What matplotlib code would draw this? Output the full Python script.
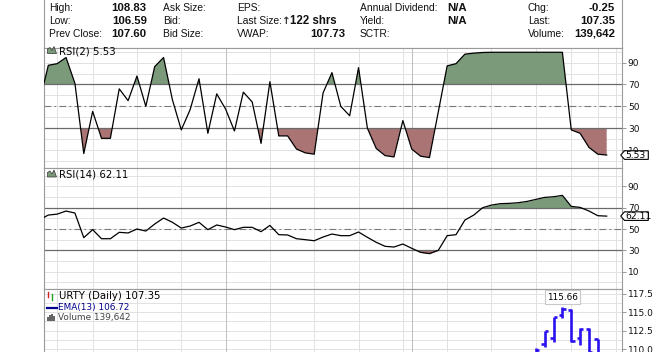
import matplotlib
matplotlib.use('Agg')
import matplotlib.pyplot as plt
from matplotlib.patches import Polygon
from matplotlib.lines import Line2D
import numpy as np

# ---------------- data ----------------
rsi2 = [54, 87.5, 89, 94.6, 71, 6.9, 45.4, 20.8, 20.8, 66, 55.2, 77.7, 50, 86.3, 94.6, 56,
        28.5, 47, 75.2, 25.4, 61.4, 47.5, 27.5, 63, 54, 16.2, 72.5, 23, 23, 11, 7.5, 6.3,
        62.3, 80.8, 50, 41.4, 85.4, 30, 11.5, 5, 3.8, 37, 11, 4.5, 3.2, 45, 87, 89, 97.7,
        98.6, 99.2, 99.4, 99.4, 99.4, 99.4, 99.4, 99.4, 99.4, 99.4, 99.4, 28.5, 25.4, 12.5,
        6.3, 5.53]
rsi14 = [58.8, 63.1, 64, 66.9, 65, 41.9, 49.4, 40.9, 40.9, 46.9, 46.3, 50, 48.1, 54.7, 60.3,
         56.3, 50.9, 52.8, 56.3, 49.4, 53.8, 51.9, 49.4, 51.6, 51.6, 47.5, 53.4, 44.7, 44.4,
         40.9, 40, 39, 42.5, 45.3, 43.75, 43.75, 47.2, 42.2, 37.5, 33.75, 33.1, 35.9, 31.9,
         28.1, 26.9, 30, 43.75, 44.7, 58.4, 63.1, 70, 72.5, 73.8, 74.1, 74.7, 75.9, 77.8,
         79.7, 80.3, 81.6, 71.25, 70.3, 66.9, 62.5, 62.11]
bar_idx = [56, 57, 58, 59, 60, 61, 62, 63, 64]
bar_open = [109.3, 110.7, 111.5, 114.7, 115.3, 111.5, 112.7, 111.3, 107.60]
bar_high = [110.2, 112.4, 114.4, 115.66, 115.4, 112.9, 112.9, 111.4, 108.83]
bar_low = [108.6, 110.3, 110.9, 114.2, 110.9, 110.5, 109.3, 108.8, 106.59]
bar_close = [109.9, 112.4, 114.3, 115.5, 111.1, 112.7, 109.6, 109.2, 107.35]
rsi_ticks = [10, 30, 50, 70, 90]
price_ticks = [110.0, 112.5, 115.0, 117.5]
grid_light = [2, 6, 11, 16, 26, 31, 36, 41, 46, 51, 56, 60, 63, 65]
grid_dark = [21, 42]

header_rows = [
    [("High:", "108.83"), ("Ask Size:", ""), ("EPS:", ""), ("Annual Dividend:", "N/A"), ("Chg:", "-0.25")],
    [("Low:", "106.59"), ("Bid:", ""), ("Last Size:", "122 shrs"), ("Yield:", "N/A"), ("Last:", "107.35")],
    [("Prev Close:", "107.60"), ("Bid Size:", ""), ("VWAP:", "107.73"), ("SCTR:", ""), ("Volume:", "139,642")],
]

# ---------------- layout ----------------
W, H = 670, 352
fig = plt.figure(figsize=(6.7, 3.52), dpi=100)
fig.patch.set_facecolor('white')

def fx(px):
    return px / W

def fy(py):
    return 1 - py / H

X_LEFT, X_RIGHT = 44.3, 622.3
X0, STEP = 39.47, 8.863
XLIM = ((X_LEFT - X0) / STEP, (X_RIGHT - X0) / STEP)
axl = fx(X_LEFT)
axw = fx(X_RIGHT) - fx(X_LEFT)

GREEN = '#7a9a79'
RED = '#aa7474'
SPINE = '#9a9a9a'
GL = '#e2e2e2'
GD = '#bdbdbd'

def style_axes(ax, ylim, yticks, hgrid, fmt=None):
    ax.set_xlim(*XLIM)
    ax.set_ylim(*ylim)
    ax.set_xticks([])
    ax.set_yticks(yticks)
    if fmt:
        ax.set_yticklabels([fmt.format(t) for t in yticks])
    ax.yaxis.tick_right()
    ax.tick_params(axis='y', direction='out', length=3, width=0.6, color='#888888',
                   pad=1, labelsize=6.5, labelcolor='#111111')
    for s in ax.spines.values():
        s.set_color(SPINE)
        s.set_linewidth(0.8)
    for g in hgrid:
        ax.axhline(g, color=GL, lw=0.7, zorder=0)
    for g in grid_light:
        ax.axvline(g, color=GL, lw=0.7, zorder=0)
    for g in grid_dark:
        ax.axvline(g, color=GD, lw=0.7, zorder=0)

# header axes (border only)
axh = fig.add_axes([axl, fy(48), axw, fy(0) - fy(48)])
axh.set_xticks([]); axh.set_yticks([])
axh.spines['top'].set_visible(False)
for s in ['left', 'right', 'bottom']:
    axh.spines[s].set_color(SPINE)
    axh.spines[s].set_linewidth(0.8)

ax1 = fig.add_axes([axl, fy(168), axw, fy(48) - fy(168)])
ax2 = fig.add_axes([axl, fy(289.3), axw, fy(168) - fy(289.3)])
ax3 = fig.add_axes([axl, fy(420), axw, fy(289.3) - fy(420)])

x = np.arange(len(rsi2))
for ax, data, ylim in [(ax1, np.array(rsi2), (-6.3, 103.3)), (ax2, np.array(rsi14), (-6.6, 107.3))]:
    style_axes(ax, ylim, rsi_ticks, list(range(0, 101, 10)))
    ax.fill_between(x, data, 70, where=data >= 70, interpolate=True, color=GREEN, lw=0, zorder=1)
    ax.fill_between(x, data, 30, where=data <= 30, interpolate=True, color=RED, lw=0, zorder=1)
    ax.axhline(70, color='#6a6a6a', lw=0.9, zorder=2)
    ax.axhline(30, color='#6a6a6a', lw=0.9, zorder=2)
    ax.axhline(50, color='#7a7a7a', lw=0.8, zorder=2, linestyle=(0, (6, 3, 1.5, 3)))
    ax.plot(x, data, color='black', lw=0.9, zorder=3)

style_axes(ax3, (100.32, 118.14), price_ticks, list(np.arange(101.25, 118.2, 1.25)), fmt='{:.1f}')
BLUE = '#2a12f0'
for i, o, h, l, c in zip(bar_idx, bar_open, bar_high, bar_low, bar_close):
    ax3.plot([i, i], [l, h], color=BLUE, lw=1.9, solid_capstyle='butt', zorder=3)
    ax3.plot([i - 0.38, i], [o, o], color=BLUE, lw=1.9, solid_capstyle='butt', zorder=3)
    ax3.plot([i, i + 0.38], [c, c], color=BLUE, lw=1.9, solid_capstyle='butt', zorder=3)

# max label
imax = int(np.argmax(bar_high))
ax3.annotate(f"{bar_high[imax]:.2f}", xy=(bar_idx[imax], bar_high[imax]),
             xytext=(0, 7.5), textcoords='offset points', ha='center', va='center',
             fontsize=6.4, zorder=6,
             bbox=dict(boxstyle='square,pad=0.25', fc='white', ec='#c8c8c8', lw=0.8))

# ---------------- value boxes ----------------
def value_box(ax, val, text):
    yc = ax.transData.transform((XLIM[1], val))[1]
    pts = [(620.7, yc), (624.5, yc + 4.3), (648.3, yc + 4.3), (648.3, yc - 4.3), (624.5, yc - 4.3)]
    poly = Polygon([(px / W, py / H) for px, py in pts], closed=True, transform=fig.transFigure,
                   fc='white', ec='black', lw=0.8, zorder=5)
    fig.add_artist(poly)
    fig.text(625.3 / W, yc / H, text, fontsize=6.7, va='center', ha='left', zorder=6)

value_box(ax1, rsi2[-1], f"{rsi2[-1]:.2f}")
value_box(ax2, rsi14[-1], f"{rsi14[-1]:.2f}")

# ---------------- panel labels ----------------
def mountain(x0, ytop):
    pts = [(x0, ytop + 7), (x0, ytop + 2.5), (x0 + 2.5, ytop + 1), (x0 + 4.5, ytop + 4),
           (x0 + 6.5, ytop), (x0 + 9, ytop + 7)]
    fig.add_artist(Polygon([(fx(px), fy(py)) for px, py in pts], closed=True,
                           transform=fig.transFigure, fc=GREEN, ec='#333333', lw=0.5, zorder=6))

mountain(47.5, 46.5)
fig.text(fx(59.3), fy(51.5), f"RSI(2) {rsi2[-1]:.2f}", fontsize=7.3, va='center', ha='left', zorder=6)
mountain(47.5, 170)
fig.text(fx(59.3), fy(174.5), f"RSI(14) {rsi14[-1]:.2f}", fontsize=7.3, va='center', ha='left', zorder=6)

# price legend
fig.add_artist(Line2D([fx(47.5), fx(47.5)], [fy(292), fy(297)], color='#d02020', lw=1.0, transform=fig.transFigure))
fig.add_artist(Line2D([fx(51.5), fx(51.5)], [fy(294), fy(300)], color='#20a020', lw=1.0, transform=fig.transFigure))
fig.text(fx(59.3), fy(296.3), f"URTY (Daily) {bar_close[-1]:.2f}", fontsize=7.3, va='center', ha='left')
fig.add_artist(Line2D([fx(46.5), fx(57)], [fy(307.8), fy(307.8)], color='#00008b', lw=1.6, transform=fig.transFigure))
fig.text(fx(57.5), fy(307.8), "EMA(13) 106.72", fontsize=6.4, va='center', ha='left', color='#00008b')
for bx, bh in [(47.5, 4), (49.5, 6), (51.5, 7), (53.5, 5)]:
    fig.add_artist(Line2D([fx(bx), fx(bx)], [fy(321), fy(321 - bh)], color='#555555', lw=1.3,
                          solid_capstyle='butt', transform=fig.transFigure))
fig.text(fx(57.5), fy(317.5), "Volume 139,642", fontsize=6.4, va='center', ha='left', color='#444444')

# ---------------- header ----------------
HF = ['Liberation Sans', 'DejaVu Sans']
baselines = [11, 24, 36.7]
label_x = [49, 162.7, 237, 360, 527.7]
value_x = [146.7, None, 345, 447.7, 615]
value_ha = ['right', None, 'right', 'left', 'right']
for r, row in enumerate(header_rows):
    for c, (lab, val) in enumerate(row):
        fig.text(fx(label_x[c]), fy(baselines[r]), lab, fontsize=7.4, family=HF, va='baseline',
                 ha='left', color='#111111')
        if not val or value_x[c] is None:
            continue
        if lab == "Last Size:":
            # arrow then value, left aligned right after the arrow
            fig.text(fx(286), fy(baselines[r]), "↑", fontsize=7.5, family=['DejaVu Sans'],
                     fontweight='bold', va='baseline', ha='center', color='#333333')
            fig.text(fx(289.5), fy(baselines[r]), val, fontsize=8.3, family=HF,
                     fontweight='bold', va='baseline', ha='left', color='#111111')
        else:
            fig.text(fx(value_x[c]), fy(baselines[r]), val, fontsize=8.2, family=HF,
                     fontweight='bold', va='baseline', ha=value_ha[c], color='#111111')

fig.savefig('out.png', dpi=100, facecolor='white')
